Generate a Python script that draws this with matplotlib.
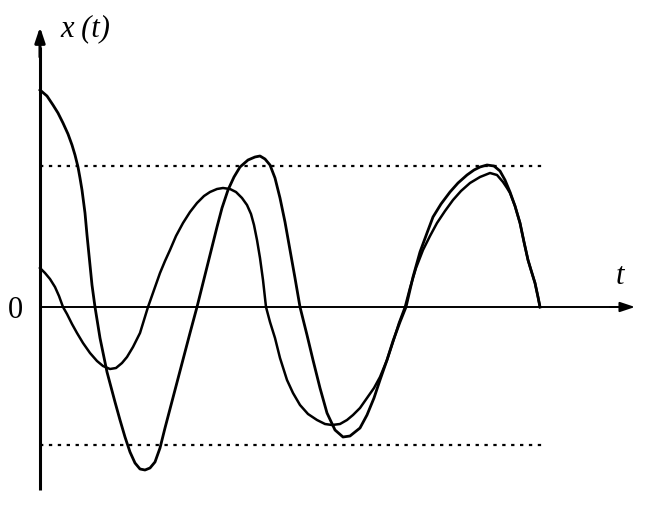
import numpy as np
import matplotlib
matplotlib.use("Agg")
import matplotlib.pyplot as plt

# curve with the larger swing
t_a = [0.00, 0.07, 0.13, 0.18, 0.23, 0.28, 0.32, 0.35, 0.38, 0.40, 0.42, 0.45, 0.47, 0.50,
       0.52, 0.55, 0.60, 0.67, 0.75, 0.80, 0.85, 0.90, 0.95, 1.00, 1.05, 1.10, 1.15, 1.20,
       1.25, 1.30, 1.35, 1.40, 1.45, 1.50, 1.57, 1.62, 1.67, 1.72, 1.77, 1.82, 1.88, 1.94,
       2.00, 2.08, 2.15, 2.20, 2.25, 2.30, 2.35, 2.40, 2.45, 2.50, 2.55, 2.60, 2.67, 2.73,
       2.80, 2.87, 2.95, 3.03, 3.10, 3.20, 3.27, 3.34, 3.40, 3.47, 3.53, 3.60, 3.66, 3.73,
       3.80, 3.87, 3.93, 4.01, 4.10, 4.18, 4.27, 4.34, 4.40, 4.47, 4.54, 4.60, 4.65, 4.70,
       4.75, 4.80, 4.84, 4.88, 4.91, 4.95, 4.98, 5.00]
x_a = [2.17, 2.11, 2.02, 1.94, 1.84, 1.73, 1.62, 1.52, 1.40, 1.29, 1.17, 0.94, 0.72, 0.42,
       0.22, 0.00, -0.31, -0.65, -0.95, -1.13, -1.30, -1.45, -1.56, -1.62, -1.63, -1.61, -1.55, -1.41,
       -1.21, -1.02, -0.83, -0.64, -0.45, -0.26, 0.00, 0.20, 0.40, 0.60, 0.80, 0.99, 1.17, 1.30,
       1.40, 1.47, 1.50, 1.51, 1.48, 1.42, 1.29, 1.09, 0.85, 0.57, 0.29, 0.00, -0.28, -0.53,
       -0.81, -1.06, -1.23, -1.30, -1.29, -1.21, -1.08, -0.91, -0.73, -0.53, -0.34, -0.15, 0.00, 0.30,
       0.55, 0.74, 0.90, 1.03, 1.15, 1.24, 1.32, 1.37, 1.40, 1.42, 1.41, 1.36, 1.27, 1.15,
       1.01, 0.84, 0.65, 0.47, 0.37, 0.24, 0.10, 0.00]

# curve starting lower
t_b = [0.00, 0.05, 0.10, 0.15, 0.19, 0.23, 0.27, 0.32, 0.37, 0.43, 0.50, 0.57, 0.63, 0.70,
       0.76, 0.82, 0.87, 0.93, 1.00, 1.04, 1.08, 1.14, 1.20, 1.25, 1.30, 1.36, 1.43, 1.50,
       1.57, 1.64, 1.70, 1.77, 1.83, 1.90, 1.96, 2.02, 2.07, 2.11, 2.14, 2.17, 2.20, 2.23,
       2.26, 2.30, 2.35, 2.40, 2.47, 2.53, 2.60, 2.68, 2.77, 2.85, 2.92, 3.00, 3.07, 3.13,
       3.20, 3.27, 3.34, 3.40, 3.47, 3.53, 3.59, 3.65, 3.70, 3.76, 3.83, 3.90, 3.97, 4.05,
       4.13, 4.21, 4.30, 4.40, 4.50, 4.57, 4.63, 4.67, 4.70, 4.75, 4.80, 4.84, 4.88, 4.91,
       4.95, 4.98, 5.00]
x_b = [0.39, 0.34, 0.28, 0.20, 0.11, 0.00, -0.07, -0.17, -0.26, -0.36, -0.46, -0.54, -0.59, -0.62,
       -0.61, -0.56, -0.50, -0.40, -0.26, -0.13, 0.00, 0.17, 0.34, 0.46, 0.57, 0.71, 0.84, 0.95,
       1.04, 1.11, 1.15, 1.18, 1.19, 1.18, 1.15, 1.09, 1.02, 0.93, 0.82, 0.67, 0.49, 0.27,
       0.00, -0.15, -0.31, -0.51, -0.73, -0.86, -0.98, -1.07, -1.13, -1.17, -1.18, -1.17, -1.13, -1.08,
       -1.01, -0.91, -0.81, -0.70, -0.53, -0.35, -0.16, 0.00, 0.19, 0.39, 0.57, 0.71, 0.84, 0.96,
       1.07, 1.16, 1.24, 1.30, 1.34, 1.32, 1.25, 1.19, 1.14, 1.01, 0.84, 0.65, 0.47, 0.37,
       0.24, 0.10, 0.00]

level_hi = 1.41
level_lo = -1.38
t_end_dots = 5.03

fig = plt.figure(figsize=(6.47, 5.2), dpi=100)
ax = fig.add_axes([0, 0, 1, 1])
ax.set_xlim(-0.40, 6.07)
ax.set_ylim(-2.13, 3.07)
ax.axis("off")

# axes with arrows
ax.plot([0, 0], [-1.83, 2.60], color="k", lw=2.2, solid_capstyle="butt")
ax.annotate("", xy=(0, 2.80), xytext=(0, 2.50),
            arrowprops=dict(arrowstyle="-|>,head_length=0.9,head_width=0.3",
                            color="k", lw=2.2, shrinkA=0, shrinkB=0))
ax.plot([0, 5.80], [0, 0], color="k", lw=1.4)
ax.annotate("", xy=(5.95, 0), xytext=(5.70, 0),
            arrowprops=dict(arrowstyle="-|>,head_length=0.9,head_width=0.3",
                            color="k", lw=1.4, shrinkA=0, shrinkB=0))

# dotted bounds
ax.plot([0, t_end_dots], [level_hi, level_hi], color="k", lw=1.6, ls=(0, (1.5, 2.5)))
ax.plot([0, t_end_dots], [level_lo, level_lo], color="k", lw=1.6, ls=(0, (1.5, 2.5)))

ax.plot(t_a, x_a, color="k", lw=2.0, solid_joinstyle="round")
ax.plot(t_b, x_b, color="k", lw=1.8, solid_joinstyle="round")

ax.text(0.20, 2.78, "x (t)", family="Liberation Serif", style="italic",
        fontsize=22, ha="left", va="center")
ax.text(-0.25, -0.04, "0", family="Liberation Serif", fontsize=22, ha="center", va="center")
ax.text(5.80, 0.30, "t", family="Liberation Serif", style="italic",
        fontsize=22, ha="center", va="center")

fig.savefig("out.png", dpi=100)
